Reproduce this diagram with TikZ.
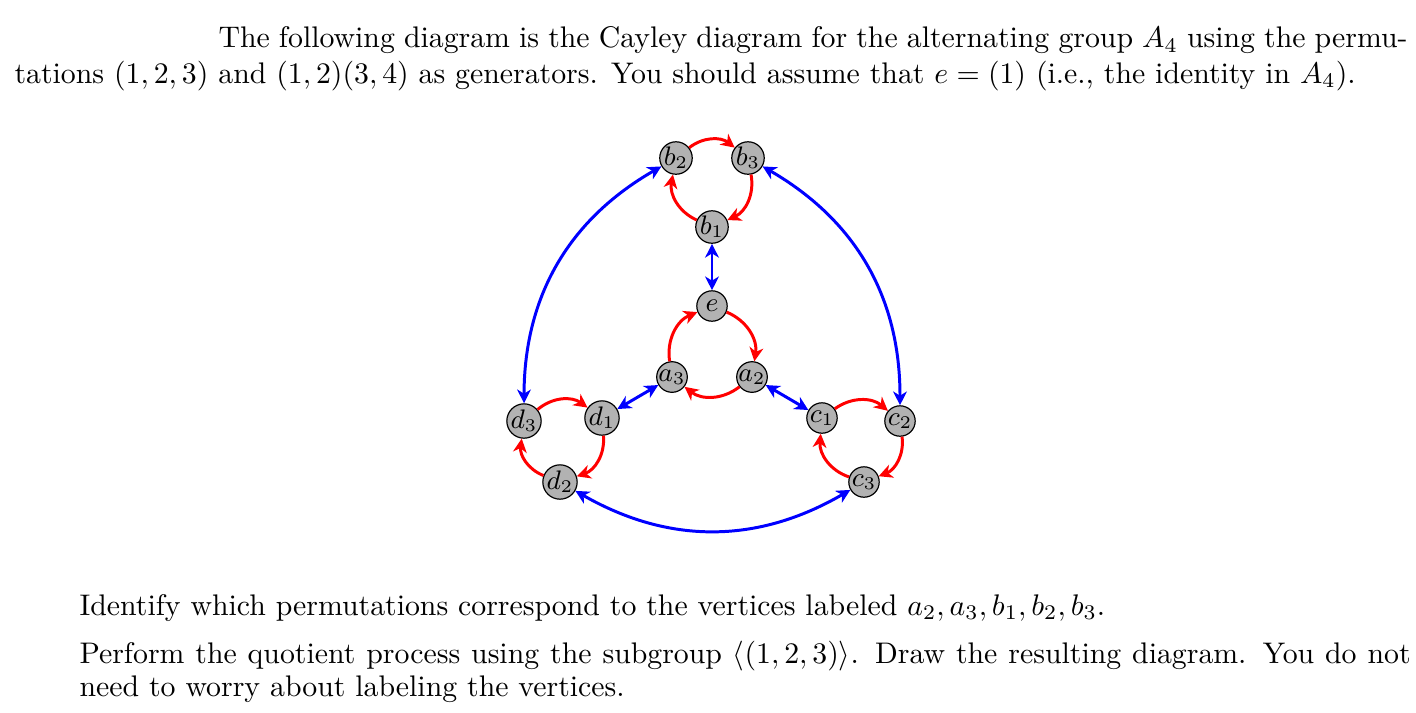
\documentclass[tikz,border=0pt]{standalone}
\usetikzlibrary{arrows.meta}
\begin{document}
\begin{tikzpicture}[x=0.3356pt,y=-0.3356pt,
  vtx/.style={circle,draw=black,fill=gray!60,minimum size=10.2pt,inner sep=0pt,font=\small},
  tip/.style={},
  rgen/.style={line width=1pt,red,-{Stealth[length=4.6pt,width=4.6pt,inset=1.4pt]}},
  bgen/.style={line width=1pt,blue,{Stealth[length=4.6pt,width=4.6pt,inset=1.4pt]}-{Stealth[length=4.6pt,width=4.6pt,inset=1.4pt]}},
  txt/.style={anchor=base west,inner sep=0pt,font=\normalsize}]
\useasboundingbox (0,0) rectangle (1416,712);
% text
\node[txt] (t1) at (218,47.7) {\makebox[399pt][s]{The following diagram is the Cayley diagram for the alternating group $A_4$ using the permu-}};
\node[txt] (t2) at (14,83.3) {tations $(1,2,3)$ and $(1,2)(3,4)$ as generators. You should assume that $e=(1)$ (i.e., the identity in $A_4$).};
\node[txt] (t3) at (79,615) {Identify which permutations correspond to the vertices labeled $a_2,a_3,b_1,b_2,b_3$.};
\node[txt] (t4) at (79,663.3) {\makebox[446.7pt][s]{Perform the quotient process using the subgroup $\langle(1,2,3)\rangle$. Draw the resulting diagram. You do not}};
\node[txt] (t5) at (79,696.7) {need to worry about labeling the vertices.};
% vertices
\node[vtx] (e) at (712,306) {$e$};
\node[vtx] (a3) at (672,377) {$a_3$};
\node[vtx] (a2) at (752,377) {$a_2$};
\node[vtx] (b1) at (712,227) {$b_1$};
\node[vtx] (b2) at (676,158) {$b_2$};
\node[vtx] (b3) at (748,158) {$b_3$};
\node[vtx] (d1) at (602,418) {$d_1$};
\node[vtx] (d3) at (524,421) {$d_3$};
\node[vtx] (d2) at (560,482) {$d_2$};
\node[vtx] (c1) at (822,418) {$c_1$};
\node[vtx] (c2) at (900,421) {$c_2$};
\node[vtx] (c3) at (864,482) {$c_3$};
% red generator
\draw[rgen] (e) to[bend left=38] (a2);
\draw[rgen] (a2) to[bend left=38] (a3);
\draw[rgen] (a3) to[bend left=38] (e);
\draw[rgen] (b2) to[bend left=38] (b3);
\draw[rgen] (b3) to[bend left=38] (b1);
\draw[rgen] (b1) to[bend left=38] (b2);
\draw[rgen] (d3) to[bend left=38] (d1);
\draw[rgen] (d1) to[bend left=38] (d2);
\draw[rgen] (d2) to[bend left=38] (d3);
\draw[rgen] (c1) to[bend left=38] (c2);
\draw[rgen] (c2) to[bend left=38] (c3);
\draw[rgen] (c3) to[bend left=38] (c1);
% blue generator
\draw[bgen] (b1) -- (e);
\draw[bgen] (a3) -- (d1);
\draw[bgen] (a2) -- (c1);
\draw[bgen] (b2) to[bend right=30] (d3);
\draw[bgen] (b3) to[bend left=30] (c2);
\draw[bgen] (d2) to[bend right=30] (c3);
\end{tikzpicture}
\end{document}
